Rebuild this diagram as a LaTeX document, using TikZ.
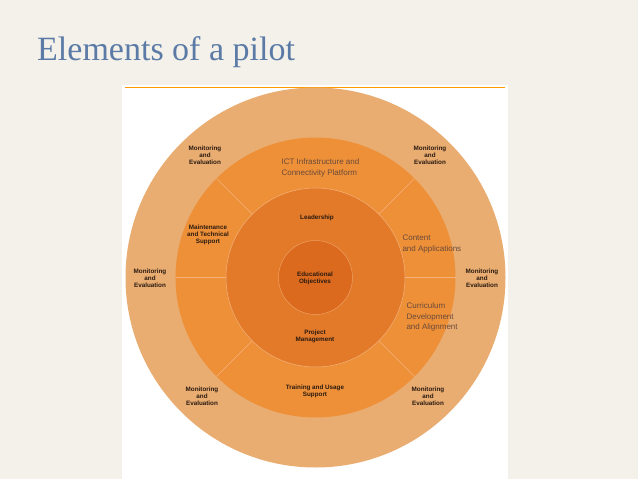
\documentclass[tikz,border=0pt]{standalone}
\usepackage{fontspec}
\usetikzlibrary{calc}
\setmainfont{Liberation Serif}
\newfontfamily\lab{Liberation Sans}
\definecolor{bgc}{HTML}{F3F1EA}
\definecolor{titc}{HTML}{5B7BA6}
\definecolor{outc}{HTML}{E9AD72}
\definecolor{midc}{HTML}{EE9038}
\definecolor{innc}{HTML}{E27A2A}
\definecolor{cenc}{HTML}{DC6A1E}
\definecolor{sepc}{HTML}{F3B27A}
\definecolor{txc}{HTML}{2A1A10}
\definecolor{txb}{HTML}{6A4A3A}
\begin{document}
\begin{tikzpicture}[x=1pt,y=-1pt,
  ml/.style={font=\lab\bfseries\fontsize{6.3}{7.2}\selectfont,align=center,text=txc},
  bl/.style={font=\lab\fontsize{8}{10.5}\selectfont,align=left,text=txb,anchor=west}]
\fill[bgc] (0,0) rectangle (638,479);
\useasboundingbox (0,0) rectangle (638,479);
\fill[white] (122,85) rectangle (508,479);
\draw[orange!80!yellow,line width=1.5pt] (125,87.5) -- (505,87.5);
\node[anchor=base west,text=titc,font=\fontsize{34}{36}\selectfont,inner sep=0] (title) at (37,60) {Elements of a pilot};
\coordinate (c) at (315.5,277.5);
\fill[outc] (c) circle[radius=190];
\fill[midc] (c) circle[radius=140];
\foreach \a in {0,45,135,180,225,315}
  \draw[sepc,line width=0.6pt] ($(c)+(\a:89.5)$) -- ($(c)+(\a:140)$);
\fill[innc] (c) circle[radius=89.5];
\draw[sepc,line width=0.5pt] (c) circle[radius=89.5];
\fill[cenc] (c) circle[radius=37];
\draw[sepc!70!innc,line width=0.5pt] (c) circle[radius=37];
\node[ml] (m1) at (205,155) {Monitoring\\and\\Evaluation};
\node[ml] (m2) at (430,155) {Monitoring\\and\\Evaluation};
\node[ml] (m3) at (150,278) {Monitoring\\and\\Evaluation};
\node[ml] (m4) at (482,278) {Monitoring\\and\\Evaluation};
\node[ml] (m5) at (202,396) {Monitoring\\and\\Evaluation};
\node[ml] (m6) at (428,396) {Monitoring\\and\\Evaluation};
\node[ml] (mt) at (208,235) {Maintenance\\and Technical\\Support};
\node[ml] (ld) at (317,218) {Leadership};
\node[ml] (eo) at (315,278) {Educational\\Objectives};
\node[ml] (pm) at (315,336) {Project\\Management};
\node[ml] (tr) at (315,391) {Training and Usage\\Support};
\node[bl] (ict) at (278,168) {ICT Infrastructure and\\Connectivity Platform};
\node[bl] (ca) at (399,244) {Content\\and Applications};
\node[bl] (cd) at (403,317) {Curriculum\\Development\\and Alignment};
\end{tikzpicture}
\end{document}
